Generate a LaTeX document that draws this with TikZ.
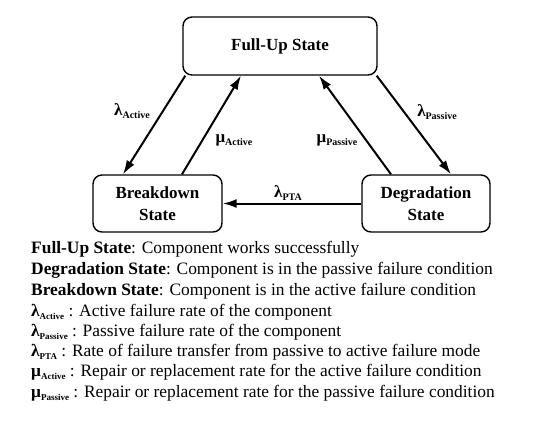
\documentclass[tikz,border=0pt]{standalone}
\usepackage{fontspec}
\setmainfont{Liberation Serif}
\usetikzlibrary{arrows.meta}
% rate symbol with a small bold subscript
\newcommand{\rate}[3]{\textbf{#1\raisebox{-0.4ex}{\fontsize{#3}{#3}\selectfont #2}}}

\begin{document}
\begin{tikzpicture}[x=1pt,y=-1pt,
    state/.style={draw,line width=1.4pt,rounded corners=9pt,align=center,
      font=\fontsize{17}{22}\selectfont\bfseries},
    trans/.style={line width=2pt,-{Latex[length=14pt,width=9pt]}},
    lbl/.style={font=\fontsize{17}{17}\selectfont,inner sep=0pt},
    legend/.style={anchor=base west,inner sep=0pt,font=\fontsize{17.4}{17}\selectfont}]
    \useasboundingbox (0,0) rectangle (552,437);

    \node[state,minimum width=194pt,minimum height=58pt] (full) at (280,46) {Full-Up State};
    \node[state,minimum width=129pt,minimum height=57pt] (brk) at (157.5,203.5) {Breakdown\\State};
    \node[state,minimum width=128pt,minimum height=57pt] (deg) at (426,203.5) {Degradation\\State};

    \draw[trans] ([xshift=3pt]full.south west) -- ([xshift=-34.5pt]brk.north);
    \draw[trans] ([xshift=24.5pt]brk.north) -- ([xshift=-39pt]full.south);
    \draw[trans] ([xshift=-35pt]deg.north) -- ([xshift=39pt]full.south);
    \draw[trans] ([xshift=-1pt]full.south east) -- ([xshift=25pt]deg.north);
    \draw[trans] (deg.west) -- (brk.east);

    \node[lbl] (la) at (132,111) {\rate{λ}{Active}{10}};
    \node[lbl] (ma) at (234,140) {\rate{μ}{Active}{10}};
    \node[lbl] (mp) at (337,140) {\rate{μ}{Passive}{10}};
    \node[lbl] (lp) at (437,112) {\rate{λ}{Passive}{10}};
    \node[lbl] (lt) at (288,193) {\rate{λ}{PTA}{10}};

    % legend
    \node[legend] (t1) at (31,253) {\textbf{Full-Up State}: Component works successfully};
    \node[legend] (t2) at (31,274) {\textbf{Degradation State}: Component is in the passive failure condition};
    \node[legend] (t3) at (31,295) {\textbf{Breakdown State}: Component is in the active failure condition};
    \node[legend] (t4) at (31,316) {\rate{λ}{Active}{9} : Active failure rate of the component};
    \node[legend] (t5) at (31,336) {\rate{λ}{Passive}{9} : Passive failure rate of the component};
    \node[legend] (t6) at (31,356) {\rate{λ}{PTA}{9} : Rate of failure transfer from passive to active failure mode};
    \node[legend] (t7) at (31,376) {\rate{μ}{Active}{9} : Repair or replacement rate for the active failure condition};
    \node[legend] (t8) at (31,397) {\rate{μ}{Passive}{9} : Repair or replacement rate for the passive failure condition};
\end{tikzpicture}
\end{document}
